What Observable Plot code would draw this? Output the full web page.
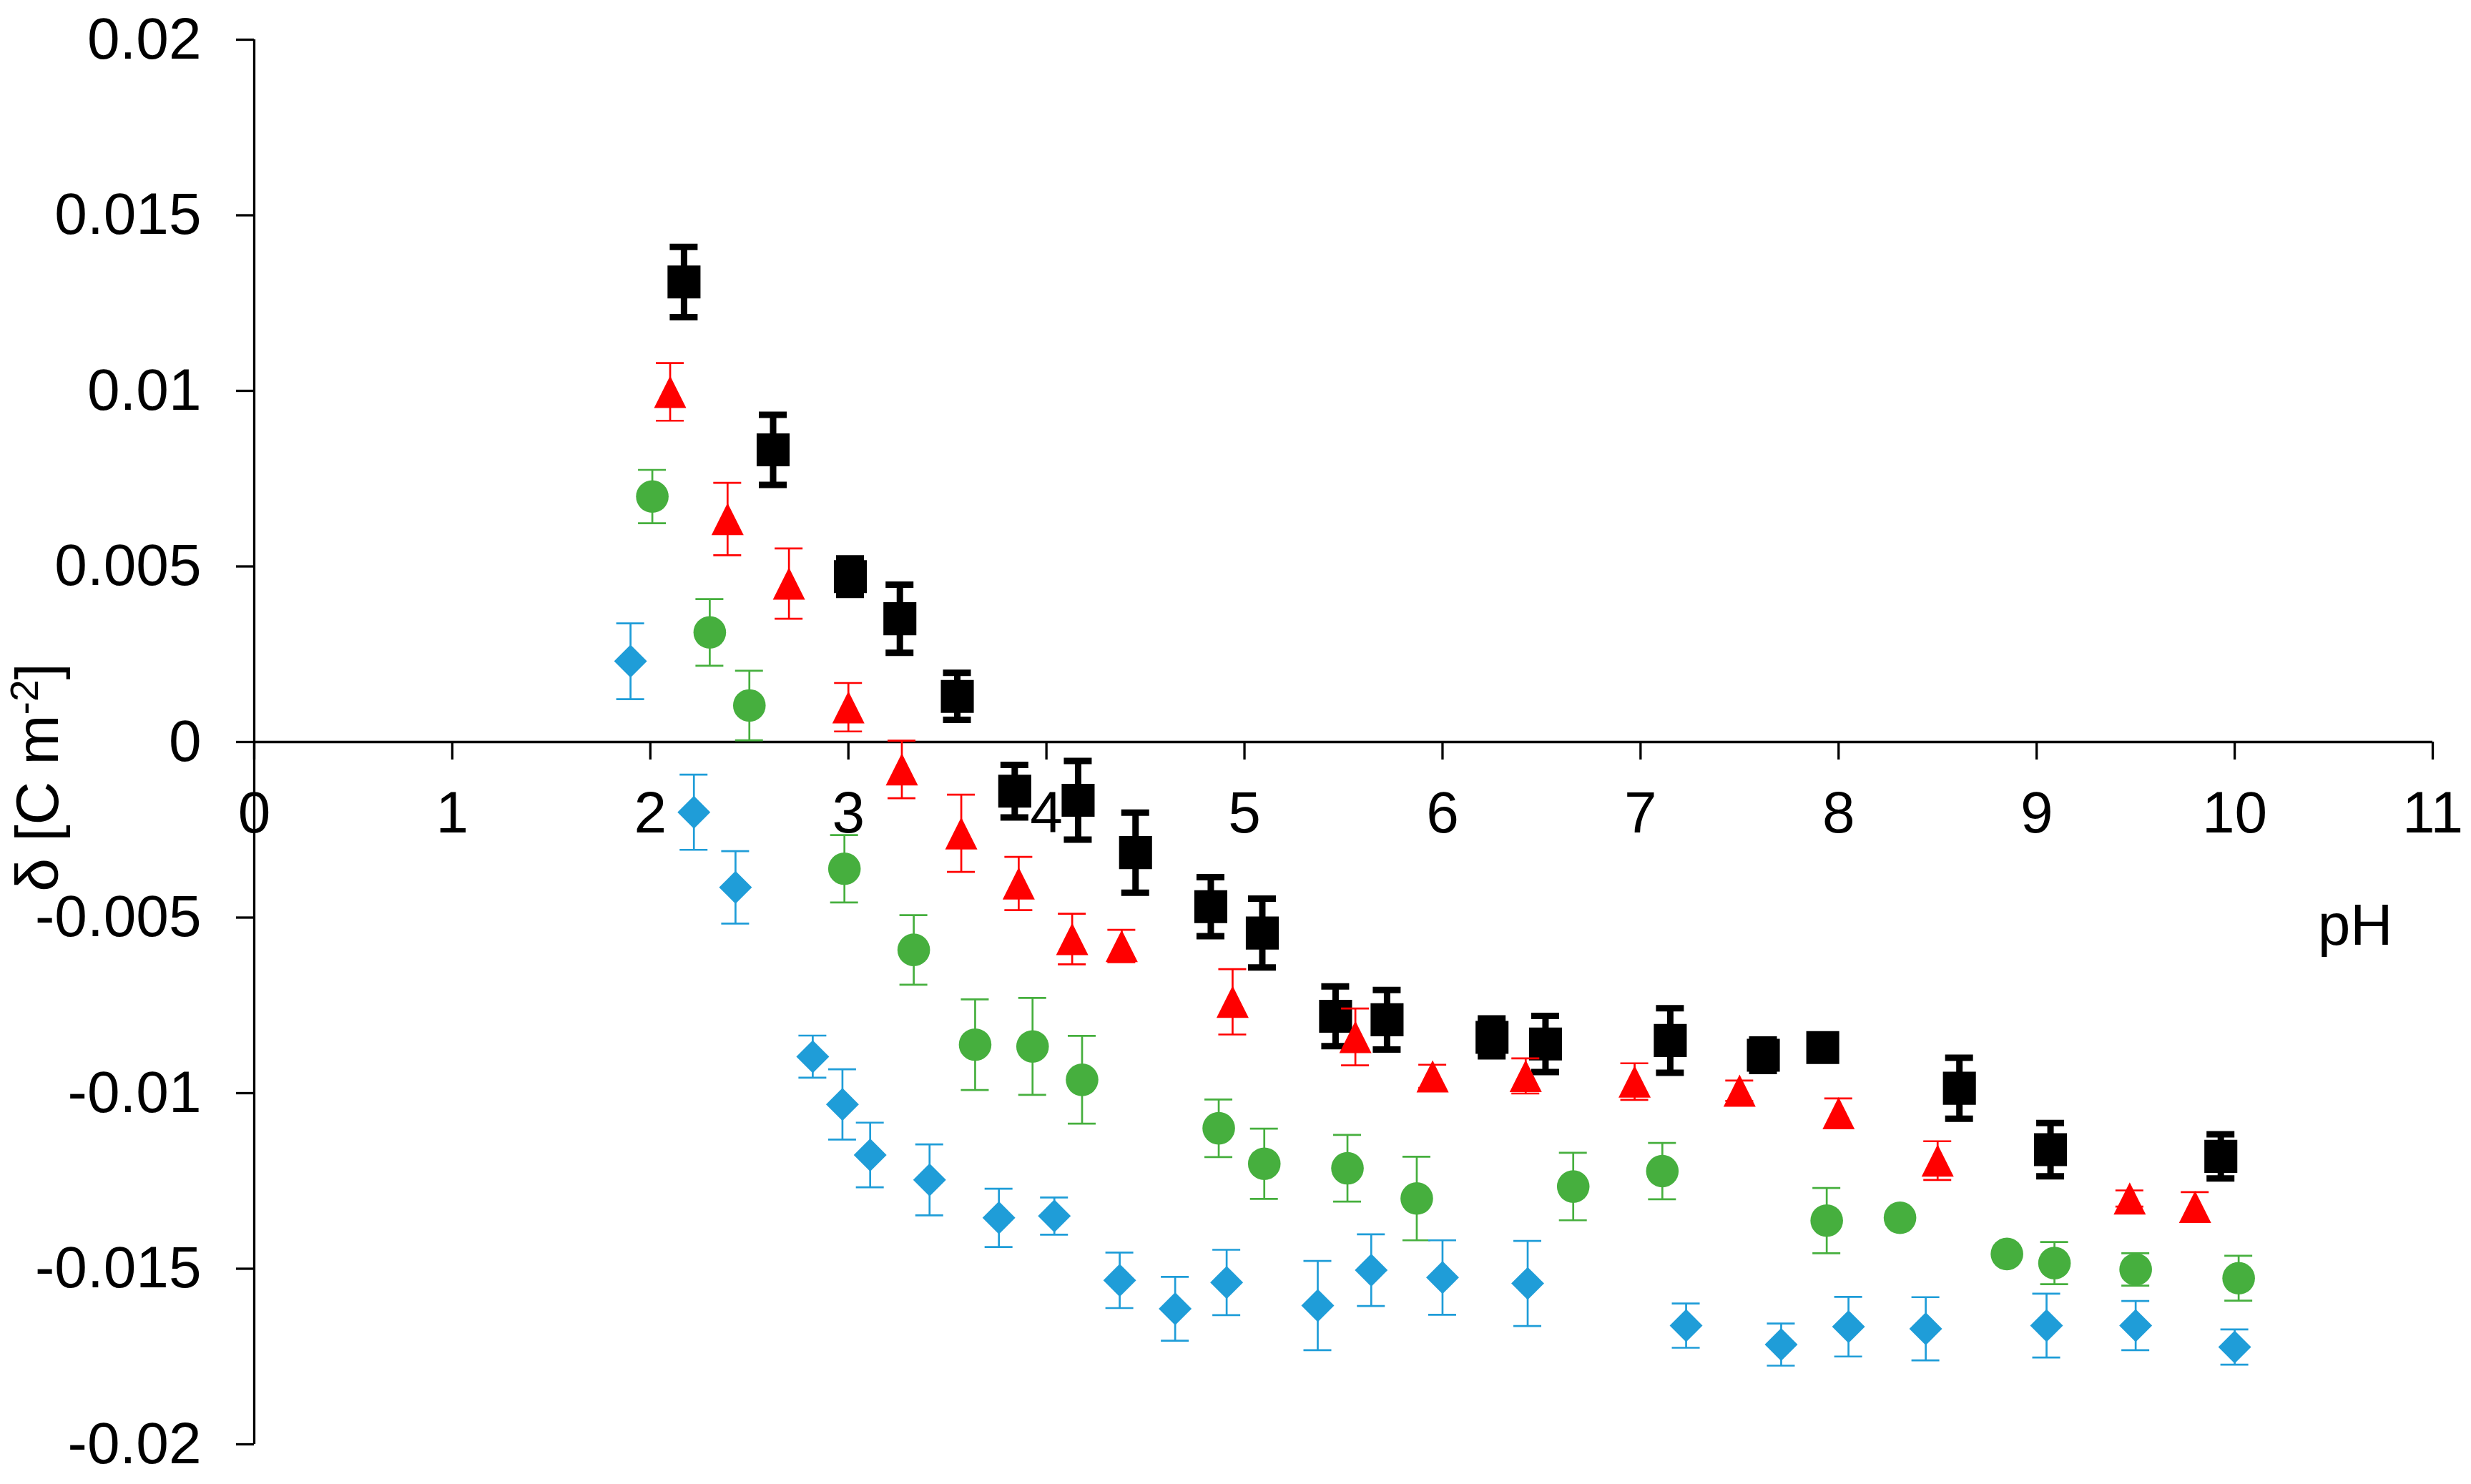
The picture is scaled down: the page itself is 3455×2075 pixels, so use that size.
<!DOCTYPE html>
<html>
<head>
<meta charset="utf-8">
<script src="https://cdn.jsdelivr.net/npm/d3@7"></script>
<script src="https://cdn.jsdelivr.net/npm/@observablehq/plot@0.6"></script>
<style>
  html, body { margin: 0; padding: 0; background: #fff; }
  #chart svg { display: block; }
</style>
</head>
<body>
<div id="chart"></div>
<script>
// values, delta in C m-2
var blackPH = [2.17, 2.62, 3.01, 3.26, 3.55, 3.84, 4.16, 4.45, 4.83, 5.09, 5.46, 5.72, 6.25, 6.52, 7.15, 7.62, 7.92, 8.61, 9.07, 9.93];
var blackDelta = [0.0131, 0.00832, 0.00471, 0.00351, 0.0013, -0.0014, -0.00166, -0.00315, -0.00469, -0.00544, -0.00781, -0.00791, -0.00841, -0.0086, -0.0085, -0.00892, -0.0087, -0.00986, -0.01161, -0.0118];
var blackErr = [0.001, 0.001, 0.00052, 0.00097, 0.00067, 0.00075, 0.00112, 0.00114, 0.00084, 0.00098, 0.00085, 0.00085, 0.00054, 0.0008, 0.00092, 0.00045, 0.0002, 0.00087, 0.00076, 0.00063];

var redPH = [2.10, 2.39, 2.70, 3.00, 3.27, 3.57, 3.86, 4.13, 4.38, 4.94, 5.56, 5.95, 6.42, 6.97, 7.50, 8.00, 8.50, 9.47, 9.80];
var redDelta = [0.00997, 0.00635, 0.00451, 0.00099, -0.00078, -0.0026, -0.00403, -0.00561, -0.00581, -0.0074, -0.0084, -0.00952, -0.00951, -0.00967, -0.00993, -0.01057, -0.01192, -0.013, -0.01324];
var redErr = [0.00082, 0.00103, 0.001, 0.00069, 0.00082, 0.0011, 0.00076, 0.00072, 0.00046, 0.00093, 0.00081, 0.00033, 0.0005, 0.00052, 0.00029, 0.00042, 0.00055, 0.00023, 0.00042];

var greenPH = [2.01, 2.30, 2.50, 2.98, 3.33, 3.64, 3.93, 4.18, 4.87, 5.10, 5.52, 5.87, 6.66, 7.11, 7.94, 8.31, 8.85, 9.09, 9.50, 10.02];
var greenDelta = [0.00699, 0.00312, 0.00104, -0.00361, -0.00592, -0.00862, -0.00867, -0.00962, -0.011, -0.01201, -0.01214, -0.013, -0.01266, -0.01222, -0.01363, -0.01355, -0.01458, -0.01484, -0.01502, -0.01527];
var greenErr = [0.00076, 0.00095, 0.00099, 0.00096, 0.00099, 0.00129, 0.00138, 0.00125, 0.00082, 0.001, 0.00095, 0.00119, 0.00096, 0.0008, 0.00093, 0.0002, 0.0002, 0.0006, 0.00046, 0.00064];

var bluePH = [1.90, 2.22, 2.43, 2.82, 2.97, 3.11, 3.41, 3.76, 4.04, 4.37, 4.65, 4.91, 5.37, 5.64, 6.00, 6.43, 7.23, 7.71, 8.05, 8.44, 9.05, 9.50, 10.00];
var blueDelta = [0.0023, -0.002, -0.00414, -0.00896, -0.01032, -0.01176, -0.01247, -0.01355, -0.0135, -0.01533, -0.01614, -0.01539, -0.01605, -0.01504, -0.01525, -0.01542, -0.01662, -0.01716, -0.01665, -0.01671, -0.01662, -0.01662, -0.01723];
var blueErr = [0.00108, 0.00107, 0.00103, 0.0006, 0.001, 0.00092, 0.00101, 0.00083, 0.00053, 0.00079, 0.00091, 0.00093, 0.00127, 0.00102, 0.00106, 0.00121, 0.00063, 0.0006, 0.00085, 0.0009, 0.00091, 0.0007, 0.0005];

var xTicks = [0, 1, 2, 3, 4, 5, 6, 7, 8, 9, 10, 11];
var xTickLabels = ["0", "1", "2", "3", "4", "5", "6", "7", "8", "9", "10", "11"];
var yTicks = [0.02, 0.015, 0.01, 0.005, 0, -0.005, -0.01, -0.015, -0.02];
var yTickLabels = ["0.02", "0.015", "0.01", "0.005", "0", "-0.005", "-0.01", "-0.015", "-0.02"];

function rows(ph, delta, err) {
    return ph.map(function (p, i) {
        return { pH: p, delta: delta[i], lo: delta[i] - err[i], hi: delta[i] + err[i] };
    });
}

// Excel style triangle: as wide as it is tall
var triangle = {
    draw: function (context, size) {
        var r = Math.sqrt(size / Math.PI);
        context.moveTo(0, -r);
        context.lineTo(r, r);
        context.lineTo(-r, r);
        context.closePath();
    }
};

var series = [
    { data: rows(blackPH, blackDelta, blackErr), color: "#000000", symbol: "square", r: 26, bar: 9 },
    { data: rows(redPH, redDelta, redErr), color: "#FF0000", symbol: triangle, r: 22.5, bar: 2.7 },
    { data: rows(greenPH, greenDelta, greenErr), color: "#46AF3E", symbol: "circle", r: 22.8, bar: 2.7 },
    { data: rows(bluePH, blueDelta, blueErr), color: "#1F9DD8", symbol: "diamond2", r: 20.7, bar: 2.7 }
];

var font = "Liberation Sans, Arial, sans-serif";

var marks = [
    Plot.ruleX([0], { stroke: "#000", strokeWidth: 3.3 }),
    Plot.ruleY([0], { stroke: "#000", strokeWidth: 3.3 }),
    Plot.axisY({
        ticks: yTicks,
        tickFormat: function (d) { return yTickLabels[yTicks.indexOf(d)]; },
        tickSize: 25,
        tickPadding: 49,
        strokeWidth: 3.3,
        fontSize: 82,
        label: null
    }),
    Plot.ruleX(xTicks, { x: function (d) { return d; }, y1: 0, y2: 0, insetBottom: -25, stroke: "#000", strokeWidth: 3.3 }),
    Plot.text(xTicks, {
        x: function (d) { return d; },
        y: 0,
        text: function (d, i) { return xTickLabels[i]; },
        dy: 100,
        fontSize: 82,
        fill: "#000"
    }),
    Plot.text(["pH"], { frameAnchor: "right", textAnchor: "end", dx: -56, dy: 257, fontSize: 82, fill: "#000" })
];

series.forEach(function (s) {
    marks.push(
        Plot.ruleX(s.data, { x: "pH", y1: "lo", y2: "hi", stroke: s.color, strokeWidth: s.bar }),
        Plot.ruleY(s.data, { y: "hi", x1: "pH", x2: "pH", insetLeft: -19.5, insetRight: -19.5, stroke: s.color, strokeWidth: s.bar }),
        Plot.ruleY(s.data, { y: "lo", x1: "pH", x2: "pH", insetLeft: -19.5, insetRight: -19.5, stroke: s.color, strokeWidth: s.bar }),
        Plot.dot(s.data, { x: "pH", y: "delta", symbol: s.symbol, r: s.r, fill: s.color, stroke: "none" })
    );
});

var chart = Plot.plot({
    width: 3455,
    height: 2075,
    marginLeft: 355,
    marginRight: 54,
    marginTop: 55,
    marginBottom: 56,
    style: { fontFamily: font, fontSize: "82px", background: "#fff", color: "#000" },
    x: { domain: [0, 11], axis: null },
    y: { domain: [-0.02, 0.02], axis: null },
    marks: marks
});

// rotated y title with superscript
var title = d3.select(chart).append("text")
    .attr("transform", "translate(81,1087) rotate(-90)")
    .attr("text-anchor", "middle")
    .attr("font-family", font)
    .attr("font-size", 84)
    .attr("fill", "#000");
title.append("tspan").text("δ [C m");
title.append("tspan").attr("dy", -28).attr("font-size", 55).text("-2");
title.append("tspan").attr("dy", 28).text("]");

document.getElementById("chart").append(chart);
</script>
</body>
</html>
